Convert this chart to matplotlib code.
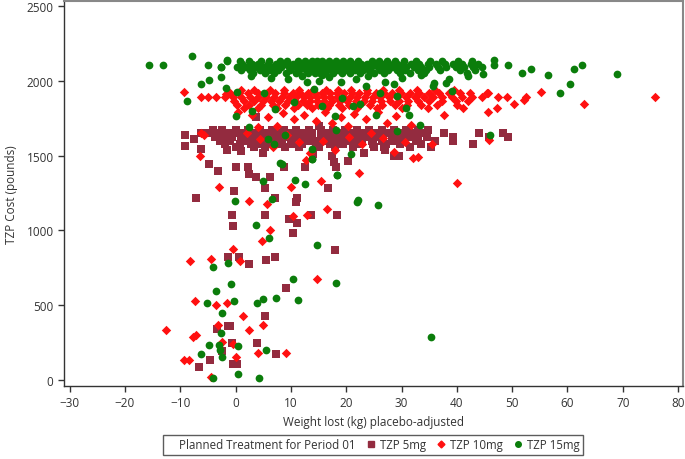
import matplotlib
matplotlib.use("Agg")
import matplotlib.pyplot as plt
from matplotlib.lines import Line2D
import numpy as np

plt.rcParams['font.family'] = ['Open Sans', 'DejaVu Sans']

# ---- TZP 5mg (squares) ----
mg5_rows = {
    1670: [-4.0, -2.5, 0.0, 2.2, 4.4, 6.6, 8.8, 11.0, 13.2, 15.4, 17.6, 19.8, 22.0, 24.2, 26.4, 28.6, 30.8, 33.0, 34.8],
    1650: [-6.3, -5.0, -3.2, -1.4, 0.4, 1.9, 3.4, 4.9, 6.4, 7.9, 9.4, 10.9, 12.4, 13.9, 15.4, 16.9, 18.4, 19.9,
           21.4, 22.9, 24.4, 25.9, 27.4, 28.9, 30.4, 31.9, 33.4, 37.7, 44.0, 48.3],
    1625: [-3.8, -2.2, -0.6, 1.0, 2.6, 4.2, 5.8, 7.4, 9.0, 10.6, 12.2, 13.8, 15.4, 17.0, 18.6, 20.2, 21.8, 23.4,
           25.0, 26.6, 28.2, 29.8, 31.4, 33.0, 34.6, 39.3, 45.8, 49.3],
    1600: [-2.9, -1.0, 1.3, 3.6, 5.0, 7.1, 8.4, 10.2, 11.8, 13.3, 14.9, 16.5, 18.1, 19.7, 21.3, 22.9, 24.6, 26.4,
           28.3, 30.5, 32.6, 36.0, 39.3],
    1575: [-2.0, 0.8, 2.8, 4.5, 6.0, 8.0, 10.0, 12.0, 14.5, 17.0, 19.5, 22.0, 24.8, 27.2, 29.8, 33.5, 43.0],
    1555: [0.0, 3.3, 5.4, 9.0, 11.5, 15.0, 18.0, 21.2, 25.0, 26.8, 31.5, 35.3],
}
mg5_x = [-9.2, -9.2, -7.6, -6.3, -4.9, -3.1, 1.0, 5.0, -1.5, 14.0, 17.5, 23.2, 27.0, 28.6, 29.6, 17.8, 15.0, 3.7,
         0.0, 2.3, 2.4, 3.7, 6.3, 5.3, 7.2, -0.3, -7.2, 8.7, 12.6, 18.2, 20.3, 16.7, 11.1, 11.0,
         -0.7, 5.3, 9.6, 11.1, 13.6, 18.3, -0.4, 10.4, 17.9, -1.4, 0.7, 2.5, 5.5, 7.2, 9.2, 5.3,
         -1.3, -1.0, -3.3, 3.9, -0.7, -2.5, 7.3, -4.6, -6.7, -0.5, 0.3]
mg5_y = [1635, 1563, 1608, 1545, 1443, 1399, 1530, 1520, 1540, 1510, 1495, 1515, 1535, 1500, 1500, 1460, 1700, 1755,
         1425, 1425, 1378, 1354, 1354, 1282, 1215, 1260, 1215, 1421, 1425, 1425, 1463, 1282, 1215, 1191,
         1101, 1101, 1075, 1052, 1101, 1101, 1030, 985, 871, 822, 822, 777, 800, 822, 614, 431,
         362, 362, 342, 246, 246, 197, 176, 132, 85, 109, 109]

# ---- TZP 10mg (diamonds) ----
mg10_rows = {
    1940: [1.0, 3.4, 6.2, 8.7, 11.5, 14.0, 16.3, 18.5, 20.9, 23.8, 26.7, 29.5, 32.8, 36.0, 39.5],
    1915: [-1.0, 0.6, 2.3, 4.0, 5.6, 7.2, 8.8, 10.3, 11.7, 13.1, 14.4, 15.7, 17.0, 18.3, 19.6, 21.0, 22.4, 23.8,
           25.3, 26.8, 28.3, 29.9, 31.5, 33.2, 34.9, 36.7, 38.6, 40.5, 42.4, 45.5],
    1890: [-6.3, -5.0, -3.6, -2.0, -0.4, 1.0, 2.6, 4.1, 5.5, 6.9, 8.3, 9.7, 11.0, 12.3, 13.5, 14.7, 15.9, 17.1,
           18.3, 19.5, 20.7, 22.0, 23.4, 24.8, 26.2, 27.7, 29.2, 30.8, 32.4, 34.0, 35.7, 37.4, 39.1, 40.9, 42.7,
           44.6, 47.5, 49.0],
    1865: [-0.2, 1.6, 3.3, 4.9, 6.4, 7.9, 9.4, 10.8, 12.1, 13.4, 14.7, 16.0, 17.4, 18.8, 20.2, 21.7, 23.2, 24.7,
           26.3, 28.0, 29.6, 31.2, 33.0, 35.0, 37.3, 39.8, 42.0],
    1840: [0.3, 2.5, 4.6, 6.8, 9.0, 11.2, 13.0, 14.9, 16.8, 18.7, 20.5, 22.4, 24.3, 26.5, 28.9, 31.0, 33.6, 36.4, 40.0],
    1815: [1.5, 4.0, 7.5, 10.5, 13.8, 16.5, 19.3, 22.0, 25.5, 30.0, 34.7, 41.2],
}
mg10_x = [-9.4, -1.8, 52.5, 55.2, 63.0, 75.8, 45.6, 45.6, 47.2, 50.3, 52.2, 40.0, 37.7,
          0.5, 3.0, 5.8, 8.5, 10.5, 12.4, 14.5, 16.2, 17.5, 19.0, 20.3, 21.4, 23.6, 25.8, 27.4, 29.0, 31.7,
          -6.3, -6.5, -5.8, 2.0, 4.5, 6.8, 9.3, 11.5, 12.7, 13.4, 15.8, 18.0, 20.5, 22.8, 24.4, 26.6,
          28.6, 30.7, 32.1, 32.9, 35.5, 45.8, 4.0, 7.5,
          -3.0, 2.5, 5.7, 10.0, 15.5, 22.3, 16.6, 10.4, 13.0, 6.3, 4.7, -0.5, -8.2, -4.5, 0.8, 14.8,
          -7.3, -3.6, -1.5, 1.4, -3.1, 2.5, 5.0, -12.5, -7.7, -7.2, -2.4, -0.4, 0.1, 4.0, 9.2, -9.3, -8.5, -4.4]
mg10_y = [1925, 1910, 1890, 1925, 1843, 1893, 1920, 1791, 1818, 1846, 1873, 1320, 1769,
          1790, 1770, 1760, 1785, 1745, 1770, 1730, 1790, 1715, 1760, 1700, 1780, 1745, 1790, 1720, 1765, 1702,
          1650, 1495, 1640, 1650, 1610, 1560, 1640, 1590, 1472, 1515, 1600, 1540, 1625, 1580, 1650, 1617,
          1523, 1594, 1485, 1490, 1575, 1601, 1690, 1700,
          1291, 1195, 1173, 1291, 1331, 1385, 1144, 1095, 1106, 1003, 932, 876, 795, 811, 793, 675,
          525, 500, 512, 429, 371, 337, 366, 333, 286, 304, 257, 239, 156, 179, 179, 132, 132, 18]

# ---- TZP 15mg (circles) ----
mg15_rows = {
    2135: [-1.5, 0.8, 2.4, 4.6, 6.1, 8.0, 9.3, 11.2, 12.5, 13.9, 14.8, 15.6, 16.9, 18.2, 19.5, 20.7, 22.1, 24.6,
           25.9, 27.3, 28.8, 30.4, 32.6, 35.1, 37.4, 40.2, 42.8],
    2115: [1.2, 3.0, 4.1, 5.8, 7.3, 8.9, 10.4, 11.8, 12.9, 13.6, 14.4, 15.2, 16.1, 17.0, 17.8, 18.9, 20.0, 21.2,
           22.6, 23.8, 25.2, 26.5, 27.7, 29.1, 30.3, 31.8, 33.2, 34.7, 36.3, 37.9, 39.4, 41.0, 42.5, 43.8],
    2095: [-2.6, 0.2, 1.9, 3.5, 5.1, 6.6, 8.2, 9.6, 10.9, 12.2, 13.3, 14.1, 14.9, 15.8, 16.6, 17.4, 18.4, 19.6,
           20.8, 22.0, 23.3, 24.5, 25.7, 27.0, 28.3, 29.6, 30.9, 32.3, 33.6, 35.0, 36.6, 38.1, 39.8, 41.3, 42.9, 44.6],
    2075: [0.9, 2.6, 4.4, 6.0, 7.7, 9.9, 11.5, 12.8, 13.8, 14.6, 15.5, 16.4, 17.3, 18.6, 20.1, 21.5, 23.0, 24.2,
           26.1, 27.6, 29.2, 30.7, 32.9, 34.4, 37.0, 40.5, 43.2],
    2055: [3.2, 5.4, 7.0, 9.1, 11.0, 13.1, 14.3, 15.3, 16.2, 17.6, 19.2, 20.6, 22.5, 25.0, 26.9, 29.8, 31.5, 34.0, 41.8],
}
mg15_x = [2.8, 6.4, 9.5, 12.0, 15.0, 16.8, 19.0, 21.8, 24.0, 27.0, 30.0, 33.5, 35.9, 38.6, 15.6, 13.0,
          -5.0, -2.7, -1.5, -2.7, -4.8, -6.2, -7.8, -13.1, -15.7, -8.8, -1.7, 0.2, 0.1,
          46.8, 46.8, 44.7, 49.2, 51.8, 53.5, 56.5, 58.6, 60.5, 61.1, 62.6, 69.0, 42.0,
          5.2, 7.2, 14.1, 15.7, 17.9, 18.1, 19.3, 21.3, 22.5, 23.5, 25.4, 26.2, 28.6, 29.1, 30.9, 31.3,
          33.3, 35.7, 38.1, 39.1, 10.5, 3.0,
          5.8, 7.0, 9.0, 13.9, 13.9, 8.0, 20.9, 18.3, 46.0, 29.1, 2.5, 35.3,
          8.3, 13.9, 4.9, 10.7, 12.5, 18.4, -0.1, 6.6, 22.0, 22.2, 25.7, 3.7, 6.1, 14.7,
          -4.1, -1.4, -0.8, 10.4, 18.1, -3.6, -5.1, -0.2, 3.8, 4.9, 7.3, 11.3, -2.5, -2.6, -4.8, -3.0,
          0.4, -2.9, -6.3, 5.5, -2.5, 0.5, 4.3, -4.0]
mg15_y = [2030, 2020, 2010, 2035, 2000, 2025, 1990, 2015, 2030, 1995, 2020, 2040, 1985, 2010, 2040, 1995,
          2103, 2092, 2136, 2025, 2007, 1980, 2165, 2103, 2103, 1864, 1951, 1925, 1762,
          2136, 2103, 2047, 2103, 2049, 2078, 2040, 1920, 1980, 2076, 2103, 2047, 2031,
          1918, 1813, 1942, 1831, 1764, 1668, 1884, 1829, 1846, 1964, 1773, 1920, 1980, 1896, 1818, 1773,
          1702, 1964, 1987, 1929, 1860, 1800,
          1612, 1575, 1639, 1541, 1479, 1447, 1508, 1372, 1639, 1662, 1693, 290,
          1443, 1474, 1331, 1336, 1311, 1367, 1197, 1213, 1188, 1204, 1171, 1034, 949, 903,
          755, 784, 641, 677, 648, 592, 518, 525, 518, 541, 545, 536, 451, 313, 232, 232,
          228, 199, 176, 199, 154, 40, 13, 13]


def with_rows(xs, ys, rows):
    ax_ = list(xs)
    ay_ = list(ys)
    for yv, row in rows.items():
        ax_ += row
        ay_ += [yv] * len(row)
    return ax_, ay_


x5, y5 = with_rows(mg5_x, mg5_y, mg5_rows)
x10, y10 = with_rows(mg10_x, mg10_y, mg10_rows)
x15, y15 = with_rows(mg15_x, mg15_y, mg15_rows)

c5, c10, c15 = '#932B3F', '#FF1010', '#0B7D0B'

fig = plt.figure(figsize=(6.85, 4.6), dpi=100)
ax = fig.add_axes([64 / 685, 1 - 387 / 460, (683 - 64) / 685, (387 - 2) / 460])

ax.scatter(x5, y5, marker='s', s=27, color=c5, linewidths=0)
ax.scatter(x10, y10, marker='D', s=23, color=c10, linewidths=0)
ax.scatter(x15, y15, marker='o', s=31, color=c15, linewidths=0)

ax.set_xlim(-31.03, 80.9)
ax.set_ylim(-40, 2533)
ax.set_xticks(np.arange(-30, 81, 10))
ax.set_yticks([0, 500, 1000, 1500, 2000, 2500])
ax.tick_params(labelsize=8.5, length=4, width=1, color='#333333', labelcolor='#333333')
for s in ['left', 'bottom']:
    ax.spines[s].set_color('#333333')
    ax.spines[s].set_linewidth(1)
for s in ['top', 'right']:
    ax.spines[s].set_color('#888888')
    ax.spines[s].set_linewidth(1.5)

ax.set_xlabel('Weight lost (kg) placebo-adjusted', fontsize=8.5, color='#333333', labelpad=4)
ax.set_ylabel('TZP Cost (pounds)', fontsize=8.5, color='#333333', labelpad=6)

handles = [Line2D([], [], linestyle='none'),
           Line2D([], [], marker='s', linestyle='none', color=c5, markersize=4),
           Line2D([], [], marker='D', linestyle='none', color=c10, markersize=3.5),
           Line2D([], [], marker='o', linestyle='none', color=c15, markersize=4)]
labels = ['Planned Treatment for Period 01', 'TZP 5mg', 'TZP 10mg', 'TZP 15mg']
leg = fig.legend(handles, labels, loc='center', bbox_to_anchor=(373 / 685, 1 - 446 / 460), ncol=4,
                 fontsize=8.3, frameon=True, fancybox=False, edgecolor='#333333',
                 handlelength=0.7, handletextpad=0.4, columnspacing=1.0, borderpad=0.3)
leg.get_frame().set_linewidth(1)
for t in leg.get_texts():
    t.set_color('#333333')

fig.savefig('out.png', dpi=100)
